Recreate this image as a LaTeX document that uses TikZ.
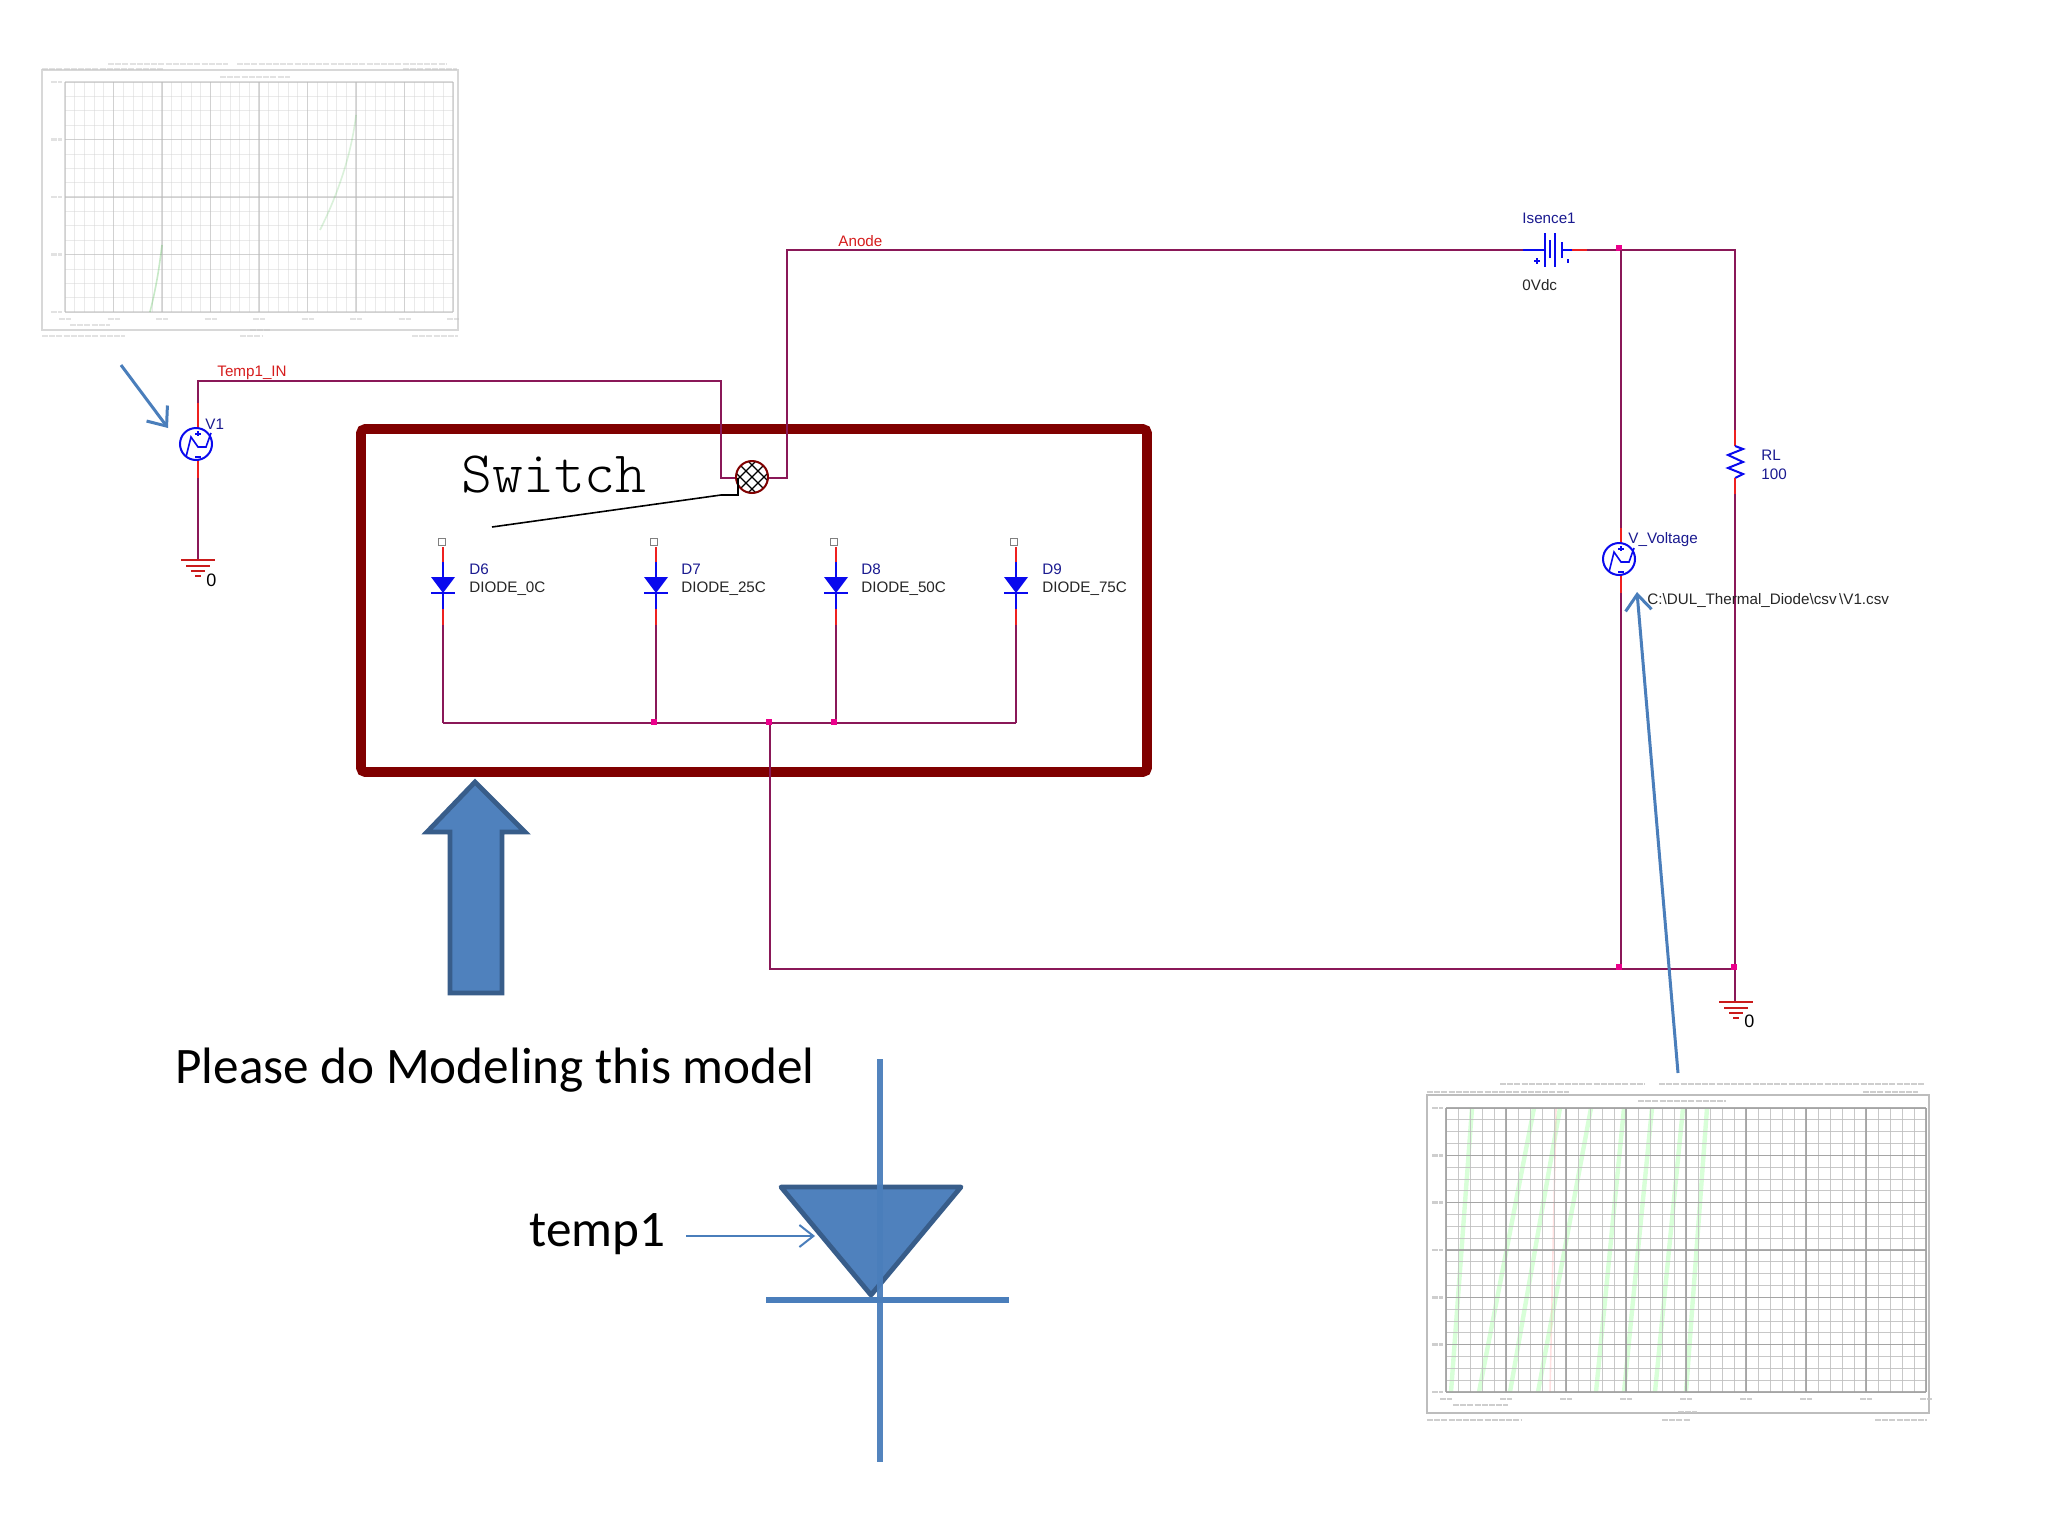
\documentclass[tikz,border=0pt]{standalone}
\usepackage{fontspec}
\setmainfont{Liberation Sans}
\newfontfamily\calibrifont{Carlito}
\newfontfamily\switchfont{Latin Modern Mono Light}
\usetikzlibrary{arrows.meta}
\definecolor{wirec}{HTML}{8A1858}
\definecolor{pinred}{HTML}{EE2020}
\definecolor{symblue}{HTML}{0A0AEE}
\definecolor{navy}{HTML}{1A1A90}
\definecolor{boxred}{HTML}{800000}
\definecolor{pptfill}{HTML}{4F81BD}
\definecolor{pptline}{HTML}{385D8A}
\definecolor{pptarrow}{HTML}{4A7EBB}
\tikzset{
  x=0.5pt,y=-0.5pt,
  wire/.style={draw=wirec,line width=1pt},
  pin/.style={draw=pinred,line width=1pt},
  sym/.style={draw=symblue,line width=1pt},
  gnd/.style={draw=pinred!85!black,line width=1pt},
  dot/.style={fill=magenta,inner sep=0pt,minimum size=3pt,rectangle},
  term/.style={draw=gray,fill=white,line width=.6pt,inner sep=0pt,minimum size=3.8pt,rectangle},
  lab/.style={font=\fontsize{7.6}{9}\selectfont,inner sep=0pt,anchor=west,text=black!85},
  lbl/.style={lab,text=navy},
  net/.style={lab,text=pinred!90!black},
  opena/.style={draw=pptarrow,line width=1.5pt,-{Straight Barb[length=8pt,width=13pt,line width=1.5pt]}},
  big/.style={font=\calibrifont\fontsize{25.6}{28}\selectfont,inner sep=0pt,anchor=base west},
  blurtext/.style={draw=gray!45,line width=1.4pt,dash pattern=on 3pt off .6pt},
  minorg/.style={draw=gray!32,line width=.35pt},
  majorg/.style={draw=gray!55,line width=.6pt},
}
\newcommand\blurbar[3]{\draw[blurtext] (#1,#3) -- (#2,#3);}
% x0 x1 y0 y1 nx ny
\newcommand\chartgrid[6]{%
  \pgfmathsetmacro\dxa{(#2-#1)/#5}\pgfmathsetmacro\dya{(#4-#3)/#6}%
  \pgfmathtruncatemacro\nxm{#5*5}\pgfmathtruncatemacro\nym{#6*4}%
  \foreach \i in {0,...,\nxm}{\draw[minorg] ({#1+\i*\dxa/5},#3) -- ({#1+\i*\dxa/5},#4);}%
  \foreach \i in {0,...,\nym}{\draw[minorg] (#1,{#3+\i*\dya/4}) -- (#2,{#3+\i*\dya/4});}%
  \foreach \i in {0,...,#5}{\draw[majorg] ({#1+\i*\dxa},#3) -- ({#1+\i*\dxa},#4);\draw[blurtext] ({#1+\i*\dxa-6},#4+7) -- ({#1+\i*\dxa+6},#4+7);}%
  \foreach \i in {0,...,#6}{\draw[majorg] (#1,{#3+\i*\dya}) -- (#2,{#3+\i*\dya});\draw[blurtext] (#1-14,{#3+\i*\dya}) -- (#1-3,{#3+\i*\dya});}%
}
\newcommand\groundsym[2]{%
  \draw[gnd] (#1-17,#2) -- (#1+17,#2);
  \draw[gnd] (#1-12,#2+6) -- (#1+12,#2+6);
  \draw[gnd] (#1-7,#2+11) -- (#1+7,#2+11);
  \draw[gnd] (#1-3,#2+16) -- (#1+3,#2+16);
}
\newcommand\sourcesym[3]{% name, x, y
  \node[draw=symblue,line width=1pt,circle,inner sep=0pt,minimum size=16pt] (#1) at (#2,#3) {};
  \draw[sym,line width=.8pt] (#2-10,#3+13) -- (#2-5,#3-7) -- (#2+2,#3+3) -- (#2+10,#3+3) -- (#2+15,#3-11);
  \draw[sym,line width=.7pt] (#2+2,#3-13) -- (#2+2,#3-8) (#2-1,#3-10) -- (#2+5,#3-10) (#2-1,#3+13) -- (#2+5,#3+13);
}
\newcommand\diodesym[6]{% name, x, term x, ref x, ref, value
  \coordinate (#1top) at (#2,547);
  \coordinate (#1bot) at (#2,723);
  \node[term] (#1term) at (#3,542) {};
  \draw[pin] (#1top) -- (#2,562);
  \draw[sym] (#2,562) -- (#2,609);
  \draw[pin] (#2,609) -- (#2,625);
  \draw[wire] (#2,625) -- (#1bot);
  \fill[symblue] (#2-12,577) -- (#2+12,577) -- (#2,593) -- cycle;
  \draw[sym] (#2-12,593) -- (#2+12,593);
  \node[lbl] (#1ref) at (#4,569) {#5};
  \node[lab] (#1val) at (#4,589) {#6};
}
\begin{document}
\begin{tikzpicture}
\useasboundingbox (0,0) rectangle (2048,1536);
\fill[white] (0,0) rectangle (2048,1536);

% ---------- left chart
\begin{scope}[opacity=.5]
\draw[draw=gray!60,line width=.6pt] (42,70) rectangle (458,330);
\chartgrid{65}{453}{82}{312}{8}{4}
\blurbar{108}{228}{64}\blurbar{237}{447}{64}
\blurbar{42}{163}{69}\blurbar{403}{457}{69}
\blurbar{220}{290}{77}
\blurbar{42}{125}{336}\blurbar{240}{262}{336}\blurbar{412}{458}{336}
\blurbar{70}{110}{325}\blurbar{250}{270}{330}
\draw[green!45!gray,line width=.8pt,opacity=.3] (150,312) .. controls (158,280) and (160,260) .. (162,245);
\draw[green!45!gray,line width=.8pt,opacity=.2] (320,230) .. controls (340,190) and (352,150) .. (356,115);
\end{scope}

% ---------- right chart
\foreach \a/\b in {1451/1472,1479/1534,1510/1560,1538/1591,1596/1624,1624/1652,1655/1683,1686/1707}{
  \draw[green!55!white,line width=2.2pt,opacity=.28] (\a,1392) -- (\b,1108);
}
\draw[red!40!white,line width=.8pt,opacity=.3] (1550,1392) -- (1556,1108);
\begin{scope}[opacity=.85,minorg/.style={draw=gray!50,line width=.4pt},majorg/.style={draw=gray!75,line width=.7pt}]
\draw[draw=gray!60,line width=.6pt] (1427,1095) rectangle (1929,1413);
\chartgrid{1446}{1926}{1108}{1392}{8}{6}
\blurbar{1500}{1645}{1084}\blurbar{1659}{1925}{1084}
\blurbar{1427}{1569}{1092}\blurbar{1863}{1918}{1092}
\blurbar{1638}{1726}{1101}
\blurbar{1453}{1508}{1405}\blurbar{1678}{1697}{1412}
\blurbar{1427}{1522}{1420}\blurbar{1662}{1690}{1420}\blurbar{1875}{1927}{1420}
\end{scope}

% ---------- switch box
\draw[boxred,line width=4.8pt,rounded corners=2pt] (361,429) rectangle (1147,772);

% ---------- junction coordinates
\coordinate (tempcorner) at (198,381);
\coordinate (tempdrop) at (721,381);
\coordinate (swleft) at (721,478);
\coordinate (swright) at (787,478);
\coordinate (anodecorner) at (787,250);
\coordinate (isleft) at (1523,250);
\coordinate (isright) at (1587,250);
\coordinate (jtop) at (1621,250);
\coordinate (rlcorner) at (1735,250);
\coordinate (rltop) at (1735,430);
\coordinate (rlbot) at (1735,494);
\coordinate (vvtop) at (1621,528);
\coordinate (vvbot) at (1621,593);
\coordinate (jbotl) at (1621,969);
\coordinate (jbotr) at (1735,969);
\coordinate (gndr) at (1735,1002);
\coordinate (busl) at (770,723);
\coordinate (busb) at (770,969);
\coordinate (v1top) at (198,403);
\coordinate (v1bot) at (198,478);
\coordinate (gndl) at (198,560);

% ---------- V1 branch
\draw[wire] (v1top) -- (tempcorner) -- (tempdrop) -- (swleft) -- (swright) -- (anodecorner) -- (isleft);
\draw[pin] (v1top) -- (198,428);
\draw[pin] (198,460) -- (v1bot);
\draw[wire] (v1bot) -- (gndl);
\sourcesym{vone}{196}{444}
\groundsym{198}{560}
\node[lab,text=black] (gl) at (206,580) {\fontsize{9}{10}\selectfont 0};
\node[net] (templab) at (217,373) {Temp1\_IN};
\node[lbl] (v1lab) at (205,424) {V1};
\draw[opena] (121,365) -- (168,428);

% ---------- lamp switch
\node[circle,inner sep=0pt,minimum size=16pt] (lamp) at (752,477) {};
\begin{scope}
\clip (752,477) circle (16);
\fill[white] (752,477) circle (16);
\foreach \d in {-36,-24,-12,0,12,24,36}{
  \draw[black,line width=.55pt] (752+\d-20,457) -- (752+\d+20,497);
  \draw[black,line width=.55pt] (752+\d+20,457) -- (752+\d-20,497);
}
\end{scope}
\draw[boxred,line width=1pt] (752,477) circle (16);
\draw[black,line width=.8pt] (492,527) -- (721,495) -- (738,495) -- (738,478);
\node[inner sep=0pt,anchor=base west,font=\switchfont\fontsize{29.4}{32}\selectfont] (swlab) at (461,492) {Switch};

% ---------- diodes
\diodesym{dsix}{443}{442}{469}{D6}{DIODE\_0C}
\diodesym{dsev}{656}{654}{681}{D7}{DIODE\_25C}
\diodesym{deig}{836}{834}{861}{D8}{DIODE\_50C}
\diodesym{dnin}{1016}{1014}{1042}{D9}{DIODE\_75C}
\draw[wire] (dsixbot) -- (dninbot);
\draw[wire] (busl) -- (busb) -- (jbotr) -- (gndr);
\node[dot] (j1) at (654,722) {};
\node[dot] (j2) at (769,722) {};
\node[dot] (j3) at (834,722) {};

% ---------- anode / isense
\node[net] (anodelab) at (838,241) {Anode};
\draw[sym] (isleft) -- (1545,250);
\draw[sym] (1545,233) -- (1545,267) (1550,240) -- (1550,258) (1555,233) -- (1555,267) (1562,242) -- (1562,258);
\draw[sym] (1562,250) -- (1572,250);
\draw[pin] (1572,250) -- (isright);
\draw[sym,line width=.7pt] (1534,261) -- (1540,261) (1537,258) -- (1537,264) (1568,259) -- (1568,263);
\draw[wire] (isright) -- (rlcorner) -- (rltop);
\node[lbl] (islab) at (1522,218) {Isence1};
\node[lab] (isval) at (1522,285) {0Vdc};
\node[dot] (j4) at (1619,248) {};

% ---------- resistor
\draw[pin] (rltop) -- (1735,446);
\draw[sym] (1735,446) -- (1743,449) -- (1728,455) -- (1743,462) -- (1728,468) -- (1743,474) -- (1735,478);
\draw[pin] (1735,478) -- (rlbot);
\draw[wire] (rlbot) -- (jbotr);
\node[lbl] (rllab) at (1761,455) {RL};
\node[lbl] (rlval) at (1761,474) {100};

% ---------- V_Voltage
\draw[wire] (jtop) -- (vvtop);
\draw[pin] (vvtop) -- (1621,543);
\draw[pin] (1621,575) -- (vvbot);
\draw[wire] (vvbot) -- (jbotl);
\sourcesym{vvolt}{1619}{559}
\node[lbl] (vvlab) at (1628,540) {V\_Voltage};
\node[lab] (vvpath) at (1647,600) {C:\textbackslash DUL\_Thermal\_Diode\textbackslash csv\,\textbackslash V1.csv};
\node[dot] (j5) at (1619,967) {};
\node[dot] (j6) at (1734,967) {};
\groundsym{1736}{1002}
\node[lab,text=black] (gr) at (1744,1021) {\fontsize{9}{10}\selectfont 0};
\draw[opena] (1678,1073) -- (1637,592);

% ---------- big block arrow
\draw[fill=pptfill,draw=pptline,line width=2.4pt,miter limit=10]
  (475,782) -- (525,832) -- (502,832) -- (502,993) -- (450,993) -- (450,832) -- (427,832) -- cycle;

% ---------- texts
\node[big] (please) at (175,1083) {Please do Modeling this model};
\node[big] (temp) at (529,1246) {temp1};

% ---------- big diode
\draw[fill=pptfill,draw=pptline,line width=2.4pt,line join=round] (781,1187) -- (961,1187) -- (871,1295) -- cycle;
\draw[pptarrow,line width=2.6pt,opacity=.95] (880,1059) -- (880,1462);
\draw[pptarrow,line width=2.8pt] (766,1300) -- (1009,1300);
\draw[pptarrow,line width=1pt,-{Straight Barb[length=7pt,width=11pt,line width=1pt]}] (686,1236) -- (815,1236);
\end{tikzpicture}
\end{document}
